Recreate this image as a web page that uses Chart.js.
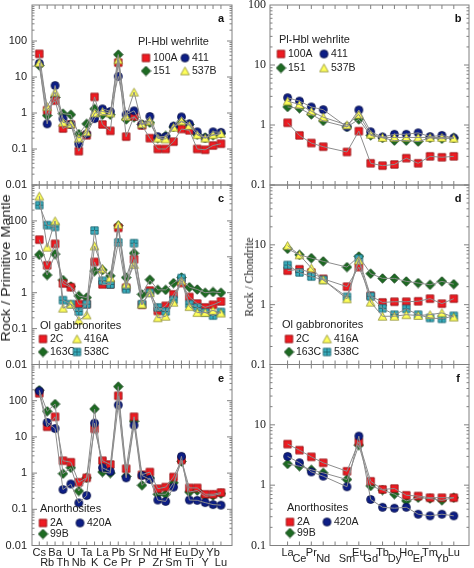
<!DOCTYPE html>
<html>
<head>
<meta charset="utf-8">
<script src="https://cdn.jsdelivr.net/npm/chart.js@4.4.1/dist/chart.umd.min.js"></script>
<style>
  body { margin: 0; background: #fff; }
  #wrap { position: relative; width: 474px; height: 568px; overflow: hidden; }
  canvas { position: absolute; }
  .yt { position: absolute; white-space: nowrap; color: #222; }
</style>
</head>
<body>
<div id="wrap">
  <canvas id="pa" width="237" height="196" style="left:0;top:0"></canvas>
  <canvas id="pb" width="237" height="196" style="left:237px;top:0"></canvas>
  <canvas id="pc" width="237" height="200" style="left:0;top:175px"></canvas>
  <canvas id="pd" width="237" height="200" style="left:237px;top:175px"></canvas>
  <canvas id="pe" width="237" height="213" style="left:0;top:355px"></canvas>
  <canvas id="pf" width="237" height="213" style="left:237px;top:355px"></canvas>
  <div class="yt" style="left:6px;top:268px;font:12px 'Liberation Sans';transform:translate(-50%,-50%) rotate(-90deg) scaleX(1.2)">Rock / Primitive Mantle</div>
  <div class="yt" style="left:249px;top:277px;font:11.5px 'Liberation Serif';transform:translate(-50%,-50%) rotate(-90deg)">Rock / Chondrite</div>
</div>
<script>
// element order on the two kinds of diagram
const spiderLabels = ['Cs','Rb','Ba','Th','U','Nb','Ta','K','La','Ce','Pb','Pr','Sr','P','Nd','Zr','Hf','Sm','Eu','Ti','Dy','Y','Yb','Lu'];
const reeLabels = ['La','Ce','Pr','Nd','Pm','Sm','Eu','Gd','Tb','Dy','Ho','Er','Tm','Yb','Lu'];

const pmTicks = [0.01, 0.1, 1, 10, 100];
const chTicksTop = [0.1, 1, 10, 100];
const chTicks = [0.1, 1, 10];

// a - Pl-Hbl wehrlite, primitive mantle normalised
const wehrPm100A = [44, 1.2, 2.2, 0.37, 0.48, 0.087, 0.24, 2.8, 0.48, 0.32, 25, 0.22, 0.8, 0.45, 0.2, 0.1, 0.1, 0.16, 0.36, 0.33, 0.1, 0.095, 0.125, 0.14];
const wehrPm411 = [24, 0.5, 5.8, 0.7, 0.48, 0.14, 0.26, 0.7, 1.3, 1.1, 10.4, 0.9, 1.15, 0.48, 0.8, 0.22, 0.22, 0.43, 0.78, 0.5, 0.3, 0.2, 0.3, 0.29];
const wehrPm151 = [21, 0.85, 2.7, 0.96, 0.9, 0.26, 0.5, 1.3, 0.9, 0.9, 42, 0.66, 0.76, 0.48, 0.54, 0.2, 0.23, 0.41, 0.57, 0.48, 0.25, 0.21, 0.24, 0.27];
const wehrPm537B = [25, 1.5, 3.8, 0.55, 0.5, 0.2, 0.3, 1.0, 1.1, 1.0, 30, 0.8, 3.8, 0.5, 0.6, 0.2, 0.19, 0.4, 0.6, 0.45, 0.25, 0.2, 0.25, 0.27];

// b - Pl-Hbl wehrlite, chondrite normalised (no Pm)
const wehrCh100A = [1.09, 0.67, 0.5, 0.435, null, 0.355, 0.79, 0.23, 0.21, 0.22, 0.28, 0.23, 0.3, 0.29, 0.3];
const wehrCh411 = [2.85, 2.5, 2.0, 1.8, null, 0.93, 1.78, 0.77, 0.63, 0.7, 0.7, 0.74, 0.64, 0.67, 0.61];
const wehrCh151 = [2.0, 1.9, 1.5, 1.17, null, 0.93, 1.24, 0.67, 0.61, 0.55, 0.55, 0.53, 0.61, 0.59, 0.61];
const wehrCh537B = [2.5, 2.2, 1.7, 1.35, null, 1.0, 1.5, 0.7, 0.62, 0.62, 0.62, 0.62, 0.62, 0.62, 0.6];

// c - Ol gabbronorites, primitive mantle
const gabPm2C = [30, 5.8, 23, 1.8, 1.42, 0.48, 0.48, 7.2, 1.7, 1.7, 64, 1.37, 8.5, 0.46, 1.15, 0.31, 0.43, 0.9, 1.87, 0.76, 0.5, 0.39, 0.46, 0.57];
const gabPm163C = [11.4, 3.1, 11.9, 2.25, 1.5, 0.81, 0.73, 4.0, 4.3, 2.95, 74, 2.65, 12.6, 0.9, 2.3, 1.2, 1.2, 1.85, 2.65, 1.42, 1.23, 1.0, 1.05, 1.0];
const gabPm416A = [490, 18.5, 100, 0.37, 0.48, 0.17, 0.24, 20, 4.6, 2.6, 79, 1.75, 6.1, 0.48, 1.0, 0.2, 0.22, 0.54, 2.15, 0.41, 0.28, 0.28, 0.32, 0.27];
const gabPm538C = [275, 76, 68, 0.62, 0.48, 0.3, 0.48, 54, 2.15, 1.7, 25, 1.25, 24, 0.48, 1.0, 0.39, 0.3, 0.63, 2.55, 0.48, 0.39, 0.28, 0.23, 0.29];

// d - Ol gabbronorites, chondrite
const gabCh2C = [3.7, 3.9, 3.45, 2.7, null, 2.0, 4.25, 1.41, 1.09, 1.12, 1.12, 1.14, 1.26, 1.04, 1.26];
const gabCh163C = [8.6, 6.8, 6.0, 5.3, null, 4.25, 6.4, 3.3, 2.75, 2.75, 2.45, 2.3, 2.15, 2.45, 2.2];
const gabCh416A = [9.7, 6.8, 4.1, 2.6, null, 1.25, 5.5, 1.1, 0.64, 0.64, 0.68, 0.66, 0.68, 0.73, 0.62];
const gabCh538C = [4.6, 3.45, 2.95, 2.6, null, 1.35, 5.9, 1.38, 0.87, 0.68, 0.85, 0.68, 0.6, 0.58, 0.65];

// e - Anorthosites, primitive mantle
const anPm2A = [160, 19, 36, 2.2, 2.0, 0.56, 0.74, 16.6, 2.2, 1.73, 137, 1.32, 36, 0.9, 1.07, 0.37, 0.41, 0.78, 2.3, 0.39, 0.39, 0.26, 0.26, 0.29];
const anPm420A = [185, 25, 17, 0.35, 0.5, 0.15, 0.24, 24, 1.4, 1.1, 76, 0.74, 21, 0.86, 0.67, 0.18, 0.165, 0.41, 2.9, 0.18, 0.177, 0.153, 0.135, 0.13];
const anPm99B = [195, 51, 81, 0.96, 1.4, 0.32, 0.74, 59, 1.07, 1.0, 245, 0.81, 27, 0.46, 0.73, 0.26, 0.26, 0.54, 2.1, 0.3, 0.33, 0.23, 0.24, 0.27];

// f - Anorthosites, chondrite
const anCh2A = [4.8, 3.8, 2.95, 2.35, null, 1.7, 5.2, 1.16, 0.85, 0.88, 0.68, 0.66, 0.62, 0.62, 0.62];
const anCh420A = [3.0, 2.35, 1.66, 1.41, null, 0.94, 6.5, 0.58, 0.43, 0.415, 0.43, 0.33, 0.31, 0.33, 0.31];
const anCh99B = [2.25, 2.06, 1.8, 1.6, null, 1.24, 4.6, 0.97, 0.83, 0.71, 0.55, 0.62, 0.6, 0.56, 0.62];

// little marker images, used both as point styles and in the legends
function marker(kind, fill, edge) {
  const c = document.createElement('canvas');
  c.width = 11; c.height = 11;
  const g = c.getContext('2d');
  g.fillStyle = fill; g.strokeStyle = edge; g.lineWidth = 0.8;
  g.beginPath();
  if (kind === 'square' || kind === 'grid') g.rect(1.8, 1.8, 7.4, 7.4);
  if (kind === 'circle') g.arc(5.5, 5.5, 4, 0, Math.PI * 2);
  if (kind === 'diamond') { g.moveTo(5.5, 0.8); g.lineTo(10.2, 5.5); g.lineTo(5.5, 10.2); g.lineTo(0.8, 5.5); g.closePath(); }
  if (kind === 'triangle') { g.moveTo(5.5, 1.5); g.lineTo(9.8, 9.3); g.lineTo(1.2, 9.3); g.closePath(); }
  g.fill(); g.stroke();
  if (kind === 'grid') {
    g.beginPath();
    g.moveTo(5.5, 1.8); g.lineTo(5.5, 9.2);
    g.moveTo(1.8, 5.5); g.lineTo(9.2, 5.5);
    g.stroke();
  }
  return c;
}
const RED = marker('square', '#ee1b22', '#8c0d10');
const BLUE = marker('circle', '#0d1e86', '#050c40');
const GREEN = marker('diamond', '#1d6b22', '#0a3510');
const YELLOW = marker('triangle', '#ffff5a', '#8b8b30');
const TEAL = marker('grid', '#38aebe', '#1a5f6a');

function toPts(values) {
  return values.map((v, i) => ({ x: i, y: v }));
}

// lines first, markers after, so every line stays under the symbols
function buildSets(series) {
  const lines = series.map(s => ({
    label: s[0] + '-line', data: toPts(s[1]), borderColor: '#8c8c8c', borderWidth: 1,
    pointRadius: 0, spanGaps: true, fill: false, tension: 0
  }));
  const pts = series.map(s => ({
    label: s[0], data: toPts(s[1]), showLine: false, pointStyle: s[2], pointRadius: 4
  }));
  return lines.concat(pts);
}

const framePlugin = {
  id: 'frame',
  afterDraw(chart, args, o) {
    const { ctx, chartArea: a, scales: { x, y } } = chart;
    ctx.save();
    ctx.strokeStyle = '#808080';
    ctx.lineWidth = 1;
    ctx.strokeRect(a.left, a.top, a.right - a.left, a.bottom - a.top);
    ctx.beginPath();
    for (let i = 0; i < o.count; i++) {
      const px = x.getPixelForValue(i);
      ctx.moveTo(px, a.top); ctx.lineTo(px, a.top + 4);
      ctx.moveTo(px, a.bottom); ctx.lineTo(px, a.bottom - 4);
    }
    const d0 = Math.round(Math.log10(y.min)), d1 = Math.round(Math.log10(y.max));
    for (let d = d0; d < d1; d++) {
      for (let k = 1; k < 10; k++) {
        const py = y.getPixelForValue(k * Math.pow(10, d));
        const len = k === 1 ? 5 : 2.5;
        ctx.moveTo(a.left, py); ctx.lineTo(a.left + len, py);
        ctx.moveTo(a.right, py); ctx.lineTo(a.right - len, py);
      }
    }
    ctx.stroke();

    ctx.fillStyle = '#111';
    ctx.font = 'bold 11px "Liberation Sans"';
    ctx.textAlign = 'center';
    ctx.textBaseline = 'middle';
    ctx.fillText(o.letter, a.right - 11, a.top + 14);

    const lg = o.legend;
    ctx.textAlign = 'left';
    ctx.font = '11px "Liberation Sans"';
    ctx.fillStyle = '#222';
    ctx.fillText(lg.title, lg.tx, lg.ty);
    ctx.font = '10.5px "Liberation Sans"';
    lg.items.forEach((name, i) => {
      const set = chart.data.datasets.find(d => d.label === name);
      const mx = lg.cols[i % 2], my = lg.rows[Math.floor(i / 2)];
      const img = set.pointStyle;
      ctx.drawImage(img, mx - img.width / 2, my - img.height / 2);
      ctx.fillText(name, mx + 7, my);
    });
    ctx.restore();
  }
};

function makeChart(id, cfg) {
  const labels = cfg.labels;
  const left = cfg.right ? 33 : 32;
  new Chart(document.getElementById(id), {
    type: 'line',
    data: { datasets: buildSets(cfg.series) },
    options: {
      responsive: false,
      animation: false,
      events: [],
      layout: { padding: { left: 0, right: 237 - left - 200, top: cfg.top, bottom: cfg.bottom } },
      plugins: {
        legend: { display: false },
        tooltip: { enabled: false },
        frame: { letter: cfg.letter, legend: cfg.legend, count: labels.length }
      },
      scales: {
        x: {
          type: 'linear',
          min: cfg.right ? -1.48 : -0.92,
          max: cfg.right ? 15.28 : 24.4,
          display: cfg.showX,
          grid: { display: false, drawTicks: false },
          border: { display: false },
          afterBuildTicks: s => { s.ticks = labels.map((l, i) => ({ value: i })); },
          afterFit: s => {
            s.height = cfg.showX ? 22.5 : 0;
            s.paddingLeft = 0; s.paddingRight = 0;
          },
          ticks: {
            autoSkip: false,
            maxRotation: 0,
            padding: cfg.right ? 3.7 : 2,
            color: '#222',
            font: { family: 'Liberation Sans', size: 11, lineHeight: cfg.right ? 0.6 : 0.94 },
            callback: v => {
              const l = labels[v] === 'Pm' ? '' : labels[v];
              return v % 2 === 0 ? [l, ''] : ['', l];
            }
          }
        },
        y: {
          type: 'logarithmic',
          min: cfg.right ? 0.1 : 0.01,
          max: cfg.right ? 100 : 1000,
          grid: { display: false, drawTicks: false },
          border: { display: false },
          afterFit: s => {
            s.width = left;
            s.paddingTop = 0; s.paddingBottom = 0;
          },
          afterBuildTicks: s => { s.ticks = cfg.yTicks.map(v => ({ value: v })); },
          ticks: {
            padding: cfg.right ? 4 : 5,
            color: '#222',
            font: cfg.right ? { family: 'Liberation Serif', size: 12 } : { family: 'Liberation Sans', size: 11 },
            callback: v => String(v)
          }
        }
      }
    },
    plugins: [framePlugin]
  });
}

makeChart('pa', {
  labels: spiderLabels, right: false, showX: false, top: 1.5, bottom: 11, letter: 'a', yTicks: pmTicks,
  series: [['537B', wehrPm537B, YELLOW], ['411', wehrPm411, BLUE], ['100A', wehrPm100A, RED], ['151', wehrPm151, GREEN]],
  legend: { title: 'Pl-Hbl wehrlite', tx: 138, ty: 42, cols: [146, 185], rows: [58, 71], items: ['100A', '411', '151', '537B'] }
});
makeChart('pb', {
  labels: reeLabels, right: true, showX: false, top: 3.5, bottom: 11, letter: 'b', yTicks: chTicksTop,
  series: [['537B', wehrCh537B, YELLOW], ['411', wehrCh411, BLUE], ['100A', wehrCh100A, RED], ['151', wehrCh151, GREEN]],
  legend: { title: 'Pl-Hbl wehrlite', tx: 42, ty: 40, cols: [44, 87], rows: [54, 68], items: ['100A', '411', '151', '537B'] }
});
makeChart('pc', {
  labels: spiderLabels, right: false, showX: false, top: 10, bottom: 10.5, letter: 'c', yTicks: pmTicks,
  series: [['416A', gabPm416A, YELLOW], ['538C', gabPm538C, TEAL], ['2C', gabPm2C, RED], ['163C', gabPm163C, GREEN]],
  legend: { title: 'Ol gabbronorites', tx: 40, ty: 151, cols: [43, 77], rows: [164, 177], items: ['2C', '416A', '163C', '538C'] }
});
makeChart('pd', {
  labels: reeLabels, right: true, showX: false, top: 10, bottom: 10.5, letter: 'd', yTicks: chTicks,
  series: [['416A', gabCh416A, YELLOW], ['538C', gabCh538C, TEAL], ['2C', gabCh2C, RED], ['163C', gabCh163C, GREEN]],
  legend: { title: 'Ol gabbronorites', tx: 45, ty: 150, cols: [52, 90], rows: [164, 177], items: ['2C', '416A', '163C', '538C'] }
});
makeChart('pe', {
  labels: spiderLabels, right: false, showX: true, top: 9.5, bottom: 0, letter: 'e', yTicks: pmTicks,
  series: [['420A', anPm420A, BLUE], ['2A', anPm2A, RED], ['99B', anPm99B, GREEN]],
  legend: { title: 'Anorthosites', tx: 40, ty: 154, cols: [43, 80], rows: [168, 179], items: ['2A', '420A', '99B'] }
});
makeChart('pf', {
  labels: reeLabels, right: true, showX: true, top: 9.5, bottom: 0, letter: 'f', yTicks: chTicks,
  series: [['420A', anCh420A, BLUE], ['2A', anCh2A, RED], ['99B', anCh99B, GREEN]],
  legend: { title: 'Anorthosites', tx: 50, ty: 153, cols: [53, 90], rows: [167, 178], items: ['2A', '420A', '99B'] }
});
</script>
</body>
</html>
